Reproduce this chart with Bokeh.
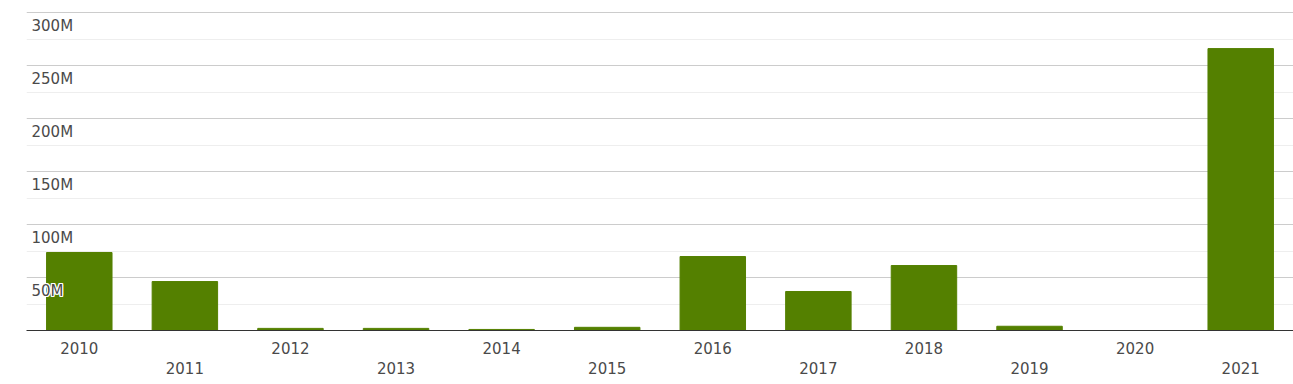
from bokeh.plotting import figure
from bokeh.models import ColumnDataSource, FixedTicker, LinearAxis, Label, Range1d
from bokeh.embed import file_html
from bokeh.resources import INLINE

years = [2010, 2011, 2012, 2013, 2014, 2015, 2016, 2017, 2018, 2019, 2020, 2021]
values = [73.6e6, 46.2e6, 2.0e6, 2.0e6, 1.0e6, 3.0e6, 69.8e6, 36.8e6, 61.3e6, 4.0e6, 0.0, 266e6]
y_ticks = [50e6, 100e6, 150e6, 200e6, 250e6, 300e6]
y_labels = ["50M", "100M", "150M", "200M", "250M", "300M"]
minor_ticks = [25e6, 75e6, 125e6, 175e6, 225e6, 275e6]

FONT = "DejaVu Sans"
TXT = "#4a4a4a"
FS = "15px"

src = ColumnDataSource(dict(x=years, top=values))

p = figure(width=1293, height=384, output_backend="svg", toolbar_location=None,
           x_range=Range1d(years[0] - 0.5, years[-1] + 0.5),
           y_range=Range1d(0, 301e6),
           min_border_left=26, min_border_right=0, min_border_top=11, min_border_bottom=54,
           x_axis_location=None, y_axis_location=None)
p.outline_line_color = None
p.background_fill_color = "white"
p.border_fill_color = "white"

p.vbar(x="x", top="top", width=0.62, bottom=0, source=src, color="#548000")

# grid
p.xgrid.visible = False
p.ygrid.ticker = FixedTicker(ticks=[0] + y_ticks, minor_ticks=minor_ticks)
p.ygrid.grid_line_color = "#cccccc"
p.ygrid.minor_grid_line_color = "#eeeeee"

# x axes: alternating labels
ax1 = LinearAxis(ticker=FixedTicker(ticks=years[0::2]))
ax2 = LinearAxis(ticker=FixedTicker(ticks=years[1::2]))
for ax in (ax1, ax2):
    ax.major_tick_line_color = None
    ax.minor_tick_line_color = None
    ax.major_tick_out = 0
    ax.major_tick_in = 0
    ax.major_label_text_font = FONT
    ax.major_label_text_font_size = FS
    ax.major_label_text_color = TXT
ax1.axis_line_color = "#333333"
ax1.major_label_standoff = 11
ax2.axis_line_color = None
ax2.major_label_standoff = 5
p.add_layout(ax1, "below")
p.add_layout(ax2, "below")

halo = [(-1, -1), (-1, 0), (-1, 1), (0, -1), (0, 1), (1, -1), (1, 0), (1, 1)]
for v, t in zip(y_ticks, y_labels):
    for dx, dy in halo:
        p.add_layout(Label(x=5, x_units="screen", y=v, y_units="data", text=t,
                           text_baseline="top", x_offset=dx, y_offset=-4 + dy,
                           text_font=FONT, text_font_size=FS, text_color="white"))
    p.add_layout(Label(x=5, x_units="screen", y=v, y_units="data", text=t,
                       text_baseline="top", y_offset=-4,
                       text_font=FONT, text_font_size=FS, text_color=TXT))

open("out.html", "w").write(file_html(p, INLINE))
